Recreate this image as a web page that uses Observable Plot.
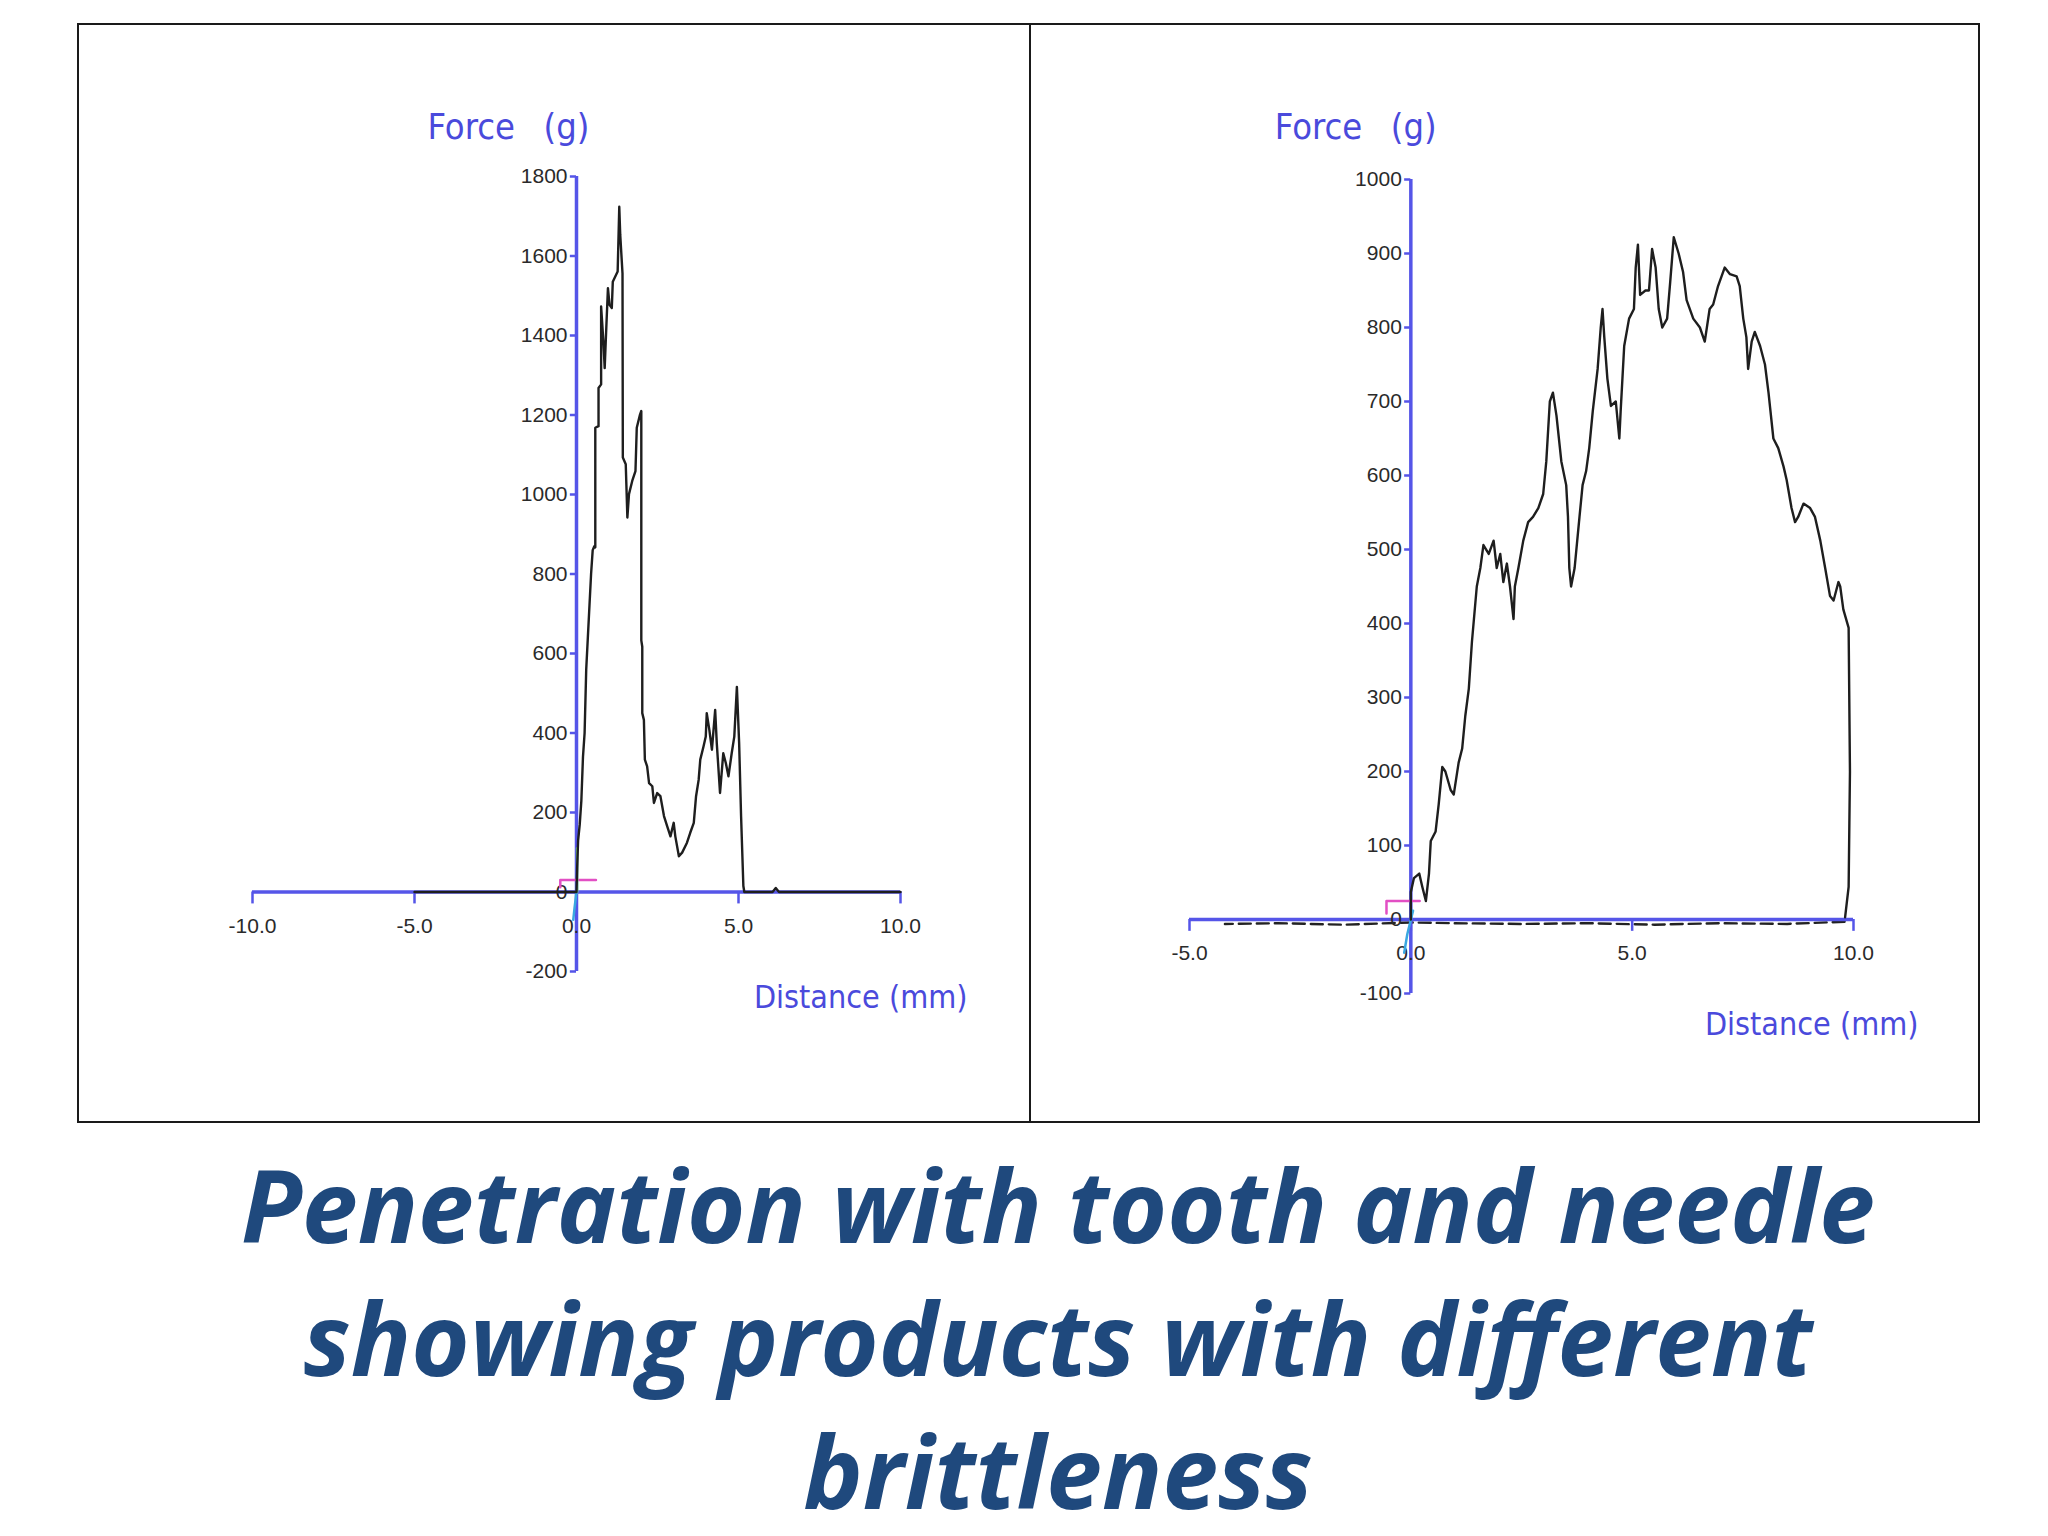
<!DOCTYPE html>
<html>
<head>
<meta charset="utf-8">
<script src="https://cdn.jsdelivr.net/npm/d3@7"></script>
<script src="https://cdn.jsdelivr.net/npm/@observablehq/plot@0.6"></script>
<style>
  html, body { margin: 0; padding: 0; background: #ffffff; }
  body { width: 2048px; height: 1536px; position: relative; overflow: hidden; }
  .panel { position: absolute; top: 24px; height: 1098px; outline: 2px solid #1a1a1a; outline-offset: -1px; }
  .panel svg { display: block; }
  #title {
    position: absolute; left: 1058px; top: 1138px; transform: translateX(-50%);
    font-family: "Open Sans", Lato, sans-serif; font-weight: 700; font-style: italic;
    font-size: 100px; line-height: 133px; color: #1f497d; text-align: center; white-space: nowrap;
  }
</style>
</head>
<body>
<div id="left" class="panel" style="left:78px;width:952px;"></div>
<div id="right" class="panel" style="left:1030px;width:949px;"></div>
<div id="title">Penetration with tooth and needle<br>showing products with different<br>brittleness</div>
<script>
// ---------- data ----------
// Left panel: tooth probe, Distance (mm) vs Force (g)
const leftDistance = [-5, 0, 0.02, 0.05, 0.1, 0.15, 0.2, 0.25, 0.3, 0.35, 0.4, 0.45, 0.5, 0.55, 0.58, 0.58, 0.68, 0.68, 0.76, 0.76, 0.83, 0.87, 0.92, 0.97, 1.02, 1.09, 1.12, 1.27, 1.32, 1.35, 1.42, 1.43, 1.52, 1.57, 1.62, 1.72, 1.82, 1.86, 1.96, 2.0, 2.0, 2.0, 2.03, 2.03, 2.08, 2.11, 2.18, 2.24, 2.34, 2.39, 2.49, 2.59, 2.7, 2.8, 2.9, 3.0, 3.05, 3.16, 3.26, 3.41, 3.51, 3.62, 3.69, 3.77, 3.82, 3.92, 3.99, 4.02, 4.1, 4.18, 4.28, 4.33, 4.43, 4.53, 4.61, 4.69, 4.79, 4.87, 4.95, 5.02, 5.08, 5.15, 5.18, 6.05, 6.15, 6.25, 10];
const leftForce    = [0, 0, 60, 130, 170, 230, 340, 400, 560, 640, 720, 800, 860, 870, 867, 1168, 1172, 1268, 1277, 1473, 1385, 1318, 1420, 1519, 1477, 1469, 1535, 1561, 1724, 1653, 1556, 1093, 1076, 942, 1001, 1034, 1059, 1168, 1201, 1210, 742, 633, 617, 450, 433, 333, 316, 274, 266, 224, 249, 241, 191, 165, 140, 174, 140, 90, 99, 124, 149, 174, 241, 282, 333, 366, 391, 450, 408, 358, 458, 374, 249, 349, 324, 291, 349, 391, 516, 374, 190, 15, 0, 0, 10, 0, 0];

// Right panel: needle probe, Distance (mm) vs Force (g)
const rightDistance = [0, 0, 0.07, 0.19, 0.26, 0.34, 0.41, 0.45, 0.56, 0.63, 0.71, 0.78, 0.9, 0.97, 1.08, 1.16, 1.23, 1.31, 1.38, 1.49, 1.57, 1.64, 1.76, 1.87, 1.94, 2.02, 2.09, 2.17, 2.24, 2.32, 2.35, 2.43, 2.54, 2.65, 2.76, 2.88, 2.99, 3.06, 3.14, 3.21, 3.29, 3.4, 3.51, 3.55, 3.58, 3.62, 3.7, 3.81, 3.88, 3.96, 4.03, 4.11, 4.22, 4.29, 4.33, 4.37, 4.44, 4.52, 4.63, 4.71, 4.74, 4.82, 4.93, 5.04, 5.08, 5.13, 5.18, 5.3, 5.38, 5.45, 5.53, 5.6, 5.68, 5.79, 5.86, 5.94, 6.05, 6.15, 6.23, 6.38, 6.53, 6.64, 6.75, 6.83, 6.94, 7.09, 7.21, 7.36, 7.43, 7.51, 7.58, 7.62, 7.7, 7.77, 7.89, 8.0, 8.08, 8.19, 8.3, 8.42, 8.49, 8.6, 8.68, 8.75, 8.87, 9.02, 9.13, 9.25, 9.36, 9.47, 9.55, 9.66, 9.7, 9.77, 9.89, 9.92, 9.89, 9.81];
const rightForce    = [0, 37, 56, 62, 44, 25, 62, 106, 119, 156, 206, 200, 175, 169, 212, 231, 275, 312, 375, 450, 475, 506, 494, 512, 475, 494, 456, 481, 450, 406, 450, 475, 512, 537, 544, 556, 575, 619, 700, 712, 681, 619, 587, 544, 475, 450, 475, 544, 587, 606, 637, 687, 744, 800, 825, 787, 731, 694, 700, 650, 687, 775, 812, 825, 881, 912, 844, 850, 850, 906, 881, 825, 800, 812, 862, 922, 900, 875, 837, 812, 800, 781, 825, 831, 856, 881, 872, 869, 856, 812, 787, 744, 781, 794, 775, 750, 712, 650, 637, 612, 594, 556, 537, 544, 562, 556, 544, 512, 475, 437, 431, 456, 450, 419, 394, 200, 44, 3];
// Right panel: withdrawal trace lying along the zero line
const rightReturnDistance = [9.8, 8.5, 7, 5.5, 4, 2.5, 1, 0, -1.5, -3, -4.2];
const rightReturnForce    = [-3, -6, -5, -7, -5, -6, -5, -4, -7, -5, -6];

// Small coloured markers near the origin
const leftMagentaX = [-0.5, -0.5, 0.6], leftMagentaY = [12, 30, 30];
const leftGreenX = [0.02, 0.02], leftGreenY = [0, 110];
const leftCyanX = [0, -0.06, -0.1], leftCyanY = [0, -40, -70];
const rightMagentaX = [-0.55, -0.55, 0.2], rightMagentaY = [8, 25, 25];
const rightCyanX = [0.05, -0.08, -0.15], rightCyanY = [12, -20, -45];

// Axes ticks
const leftXTicks = [-10, -5, 0, 5, 10];
const leftYTicks = [-200, 0, 200, 400, 600, 800, 1000, 1200, 1400, 1600, 1800];
const rightXTicks = [-5, 0, 5, 10];
const rightYTicks = [-100, 0, 100, 200, 300, 400, 500, 600, 700, 800, 900, 1000];

const yLabel = ["Force", "(g)"];
const xLabel = "Distance (mm)";

// ---------- drawing ----------
const axisBlue = "#5555e8";
const labelBlue = "#4a4adc";
const tickText = "#2a2a2a";
const font = "'Liberation Sans', Arial, sans-serif";
const narrow = "'Liberation Sans Narrow', 'Arial Narrow', 'DejaVu Sans Condensed', 'Liberation Sans', sans-serif";

const pts = (xs, ys) => xs.map((x, i) => ({x, y: ys[i]}));

function panel(cfg) {
  const [x0, x1] = cfg.xDomain, [y0, y1] = cfg.yDomain;
  return Plot.plot({
    width: cfg.width, height: 1098,
    marginLeft: cfg.ml, marginRight: cfg.mr, marginTop: cfg.mt, marginBottom: cfg.mb,
    x: {domain: cfg.xDomain, axis: null},
    y: {domain: cfg.yDomain, axis: null},
    style: {background: "transparent", overflow: "visible", fontFamily: font},
    marks: [
      cfg.under ? Plot.line(cfg.under, {x: "x", y: "y", stroke: "#222", strokeWidth: 2.4, strokeDasharray: "12 6"}) : null,
      // axis lines
      Plot.ruleY([0], {x1: () => x0, x2: () => x1, stroke: axisBlue, strokeWidth: 3.5}),
      Plot.ruleX([0], {y1: () => y0, y2: () => y1, stroke: axisBlue, strokeWidth: 3.5}),
      // ticks
      Plot.ruleY(cfg.yTicks, {y: d => d, x1: () => 0, x2: () => -cfg.yTickLen, stroke: axisBlue, strokeWidth: 2.5}),
      Plot.ruleX(cfg.xTicks, {x: d => d, y1: () => 0, y2: () => -cfg.xTickLen, stroke: axisBlue, strokeWidth: 2.5}),
      // tick labels
      Plot.text(cfg.yTicks, {x: () => 0, y: d => d, text: d => String(d), dx: -9, textAnchor: "end", fontSize: 21, fill: tickText}),
      Plot.text(cfg.xTicks, {x: d => d, y: () => 0, text: d => d.toFixed(1), dy: 34, fontSize: 21, fill: tickText}),
      // axis titles
      Plot.text([yLabel[0]], {x: () => 0, y: () => y1, text: d => d, dx: cfg.forceDx, dy: cfg.forceDy, textAnchor: "start", fontSize: 36, fontFamily: narrow, fill: labelBlue}),
      Plot.text([yLabel[1]], {x: () => 0, y: () => y1, text: d => d, dx: cfg.gDx, dy: cfg.forceDy, textAnchor: "start", fontSize: 36, fontFamily: narrow, fill: labelBlue}),
      Plot.text([xLabel], {x: () => x1, y: () => 0, text: d => d, dx: cfg.distDx, dy: cfg.distDy, textAnchor: "end", fontSize: 32, fontFamily: narrow, fill: labelBlue}),
      // origin markers
      Plot.line(cfg.magenta, {x: "x", y: "y", stroke: "#e24fc4", strokeWidth: 2.5}),
      cfg.green ? Plot.line(cfg.green, {x: "x", y: "y", stroke: "#7ed67e", strokeWidth: 2.5}) : null,
      Plot.line(cfg.cyan, {x: "x", y: "y", stroke: "#3aa8e0", strokeWidth: 2.5}),
      // data trace
      Plot.line(cfg.trace, {x: "x", y: "y", stroke: "#1e1e1e", strokeWidth: 2.4, curve: "linear"})
    ]
  });
}

document.getElementById("left").appendChild(panel({
  width: 952, ml: 174, mr: 130, mt: 152, mb: 151,
  xDomain: [-10, 10], yDomain: [-200, 1800],
  xTicks: leftXTicks, yTicks: leftYTicks,
  yTickLen: 0.19, xTickLen: 30,
  forceDx: -149, gDx: -33, forceDy: -49, distDx: 67, distDy: 106,
  trace: pts(leftDistance, leftForce),
  magenta: pts(leftMagentaX, leftMagentaY),
  green: pts(leftGreenX, leftGreenY),
  cyan: pts(leftCyanX, leftCyanY)
}));

document.getElementById("right").appendChild(panel({
  width: 949, ml: 159, mr: 126, mt: 155, mb: 129,
  xDomain: [-5, 10], yDomain: [-100, 1000],
  xTicks: rightXTicks, yTicks: rightYTicks,
  yTickLen: 0.14, xTickLen: 16,
  forceDx: -136, gDx: -20, forceDy: -52, distDx: 65, distDy: 105,
  trace: pts(rightDistance, rightForce),
  under: pts(rightReturnDistance, rightReturnForce),
  magenta: pts(rightMagentaX, rightMagentaY),
  cyan: pts(rightCyanX, rightCyanY)
}));
</script>
</body>
</html>
